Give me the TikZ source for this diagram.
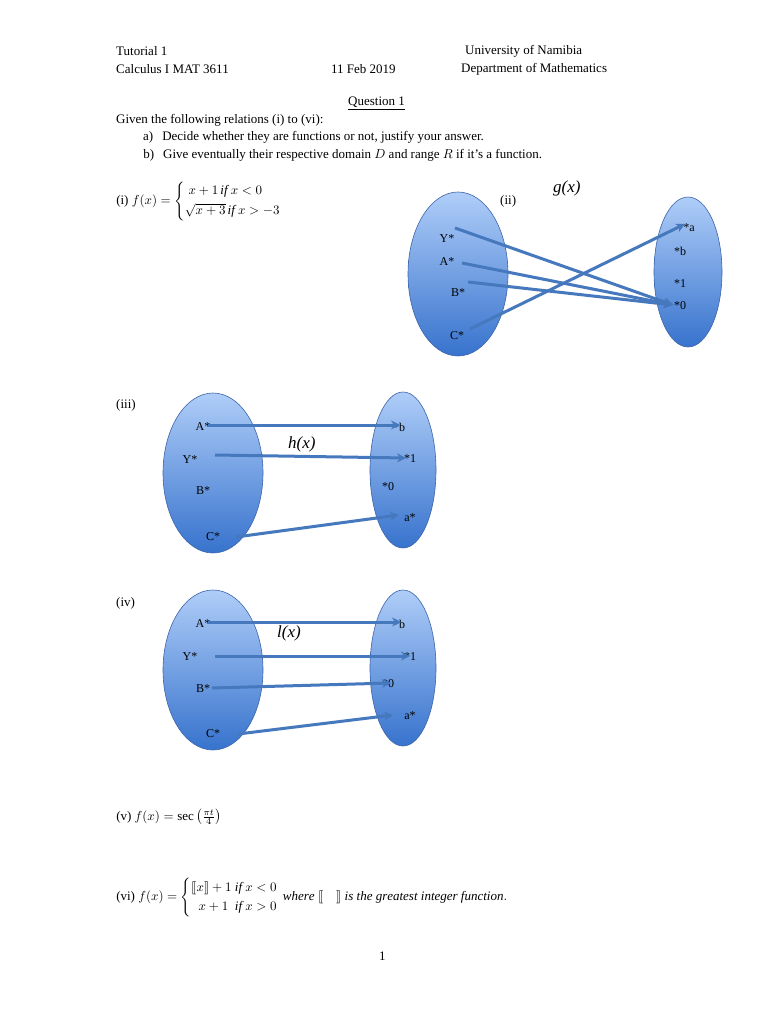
\documentclass[tikz,border=0pt]{standalone}
\usepackage{amsmath,stmaryrd}
\usepackage{fontspec}
\setmainfont{Liberation Serif}
\usetikzlibrary{arrows.meta}
\definecolor{arr}{RGB}{70,120,190}
\definecolor{etop}{RGB}{175,205,248}
\definecolor{ebot}{RGB}{55,115,205}
\definecolor{eline}{RGB}{60,100,170}
\begin{document}
\begin{tikzpicture}[x=1pt,y=-1pt,
  txt/.style={anchor=west,inner sep=0pt,font=\fontsize{13}{15}\selectfont},
  mth/.style={anchor=west,inner sep=0pt,font=\fontsize{10}{12}\selectfont,scale=1.3,transform shape},
  lbl/.style={inner sep=0pt,font=\fontsize{12}{14}\selectfont},
  blob/.style={draw=eline,line width=0.6pt,top color=etop,bottom color=ebot},
  con/.style={draw=arr,line width=3pt,-{Stealth[length=9pt,width=9pt]}}]
\useasboundingbox[fill=white] (0,0) rectangle (768,1024);
\node[txt] (t1) at (116,51) {Tutorial 1};
\node[txt] (t2) at (116,69) {Calculus I MAT 3611};
\node[txt] (t3) at (331,69) {11 Feb 2019};
\node[txt] (t4) at (465,51) {University of Namibia};
\node[txt] (t5) at (461,69) {Department of Mathematics};
\node[txt] (q) at (348,103) {\underline{Question 1}};
\node[txt] (g1) at (116,120) {Given the following relations (i) to (vi):};
\node[txt] (g2) at (143,137) {a)\hspace{9pt}Decide whether they are functions or not, justify your answer.};
\node[mth] (g3) at (143,155) {b)\hspace{7pt}Give eventually their respective domain $D$ and range $R$ if it's a function.};
\node[mth] (fi) at (116,201) {(i) $f(x)=\begin{cases} \;x+1\,\mathit{if}\ x<0\\[1pt] \sqrt{x+3}\,\mathit{if}\ x>-3\end{cases}$};
% (ii)
\node[txt] (ii) at (500,201) {(ii)};
\node[txt] (gx) at (553,188) {\fontsize{17}{19}\selectfont\itshape g(x)};
\draw[blob] (458,274) ellipse (50 and 82);
\draw[blob] (688,272) ellipse (34 and 75);
\node[lbl] (Y2) at (447,239) {Y*};
\node[lbl] (A2) at (447,262) {A*};
\node[lbl] (B2) at (458,293) {B*};
\node[lbl] (C2) at (457,336) {C*};
\node[lbl] (a2) at (689,228) {*a};
\node[lbl] (b2) at (680,251) {*b};
\node[lbl] (12) at (680,284) {*1};
\node[lbl] (02) at (680,306) {*0};
\coordinate (y2s) at (455,228); \coordinate (a2s) at (462,263); \coordinate (b2s) at (468,282); \coordinate (c2s) at (470,329);
\coordinate (z2) at (673,305); \coordinate (a2e) at (685,224);
\draw[con] (y2s) -- (z2); \draw[con] (a2s) -- (z2); \draw[con] (b2s) -- (z2); \draw[con] (c2s) -- (a2e);
% (iii)
\node[txt] (iii) at (116,405) {(iii)};
\draw[blob] (213,473) ellipse (50 and 80);
\draw[blob] (403,470) ellipse (33 and 78);
\node[txt] (hx) at (288,444) {\fontsize{17}{19}\selectfont\itshape h(x)};
\node[lbl] (A3) at (203,427) {A*};
\node[lbl] (Y3) at (190,460) {Y*};
\node[lbl] (B3) at (203,491) {B*};
\node[lbl] (C3) at (213,537) {C*};
\node[lbl] (b3) at (399,427) {*b};
\node[lbl] (13) at (410,459) {*1};
\node[lbl] (03) at (388,487) {*0};
\node[lbl] (a3) at (410,518) {a*};
\coordinate (a3s) at (208,425); \coordinate (a3e) at (400,425);
\coordinate (y3s) at (215,455); \coordinate (y3e) at (406,458);
\coordinate (c3s) at (236,537); \coordinate (c3e) at (399,515);
\draw[con] (a3s) -- (a3e); \draw[con] (y3s) -- (y3e); \draw[con] (c3s) -- (c3e);
% (iv)
\node[txt] (iv) at (116,603) {(iv)};
\draw[blob] (213,670) ellipse (50 and 80);
\draw[blob] (403,668) ellipse (33 and 78);
\node[txt] (lx) at (277,633) {\fontsize{17}{19}\selectfont\itshape l(x)};
\node[lbl] (A4) at (203,624) {A*};
\node[lbl] (Y4) at (190,657) {Y*};
\node[lbl] (B4) at (203,689) {B*};
\node[lbl] (C4) at (213,734) {C*};
\node[lbl] (b4) at (399,624) {*b};
\node[lbl] (14) at (410,657) {*1};
\node[lbl] (04) at (388,684) {*0};
\node[lbl] (a4) at (410,716) {a*};
\coordinate (a4s) at (208,622); \coordinate (a4e) at (401,622);
\coordinate (y4s) at (215,656); \coordinate (y4e) at (410,656);
\coordinate (b4s) at (212,688); \coordinate (b4e) at (391,683);
\coordinate (c4s) at (238,734); \coordinate (c4e) at (393,715);
\draw[con] (a4s) -- (a4e); \draw[con] (y4s) -- (y4e); \draw[con] (b4s) -- (b4e); \draw[con] (c4s) -- (c4e);
% (v),(vi)
\node[mth] (fv) at (116,817) {(v) $f(x)=\sec\left(\frac{\pi t}{4}\right)$};
\node[mth] (fvi) at (116,897) {(vi) $f(x)=\begin{cases}\llbracket x\rrbracket+1\ \mathit{if}\ x<0\\ \;\;x+1\ \ \mathit{if}\ x>0\end{cases}\hspace{-8pt}\mathit{where}\ \llbracket\quad\rrbracket\ \mathit{is\ the\ greatest\ integer\ function.}$};
\node[txt] (pg) at (379,956) {1};
\end{tikzpicture}
\end{document}
